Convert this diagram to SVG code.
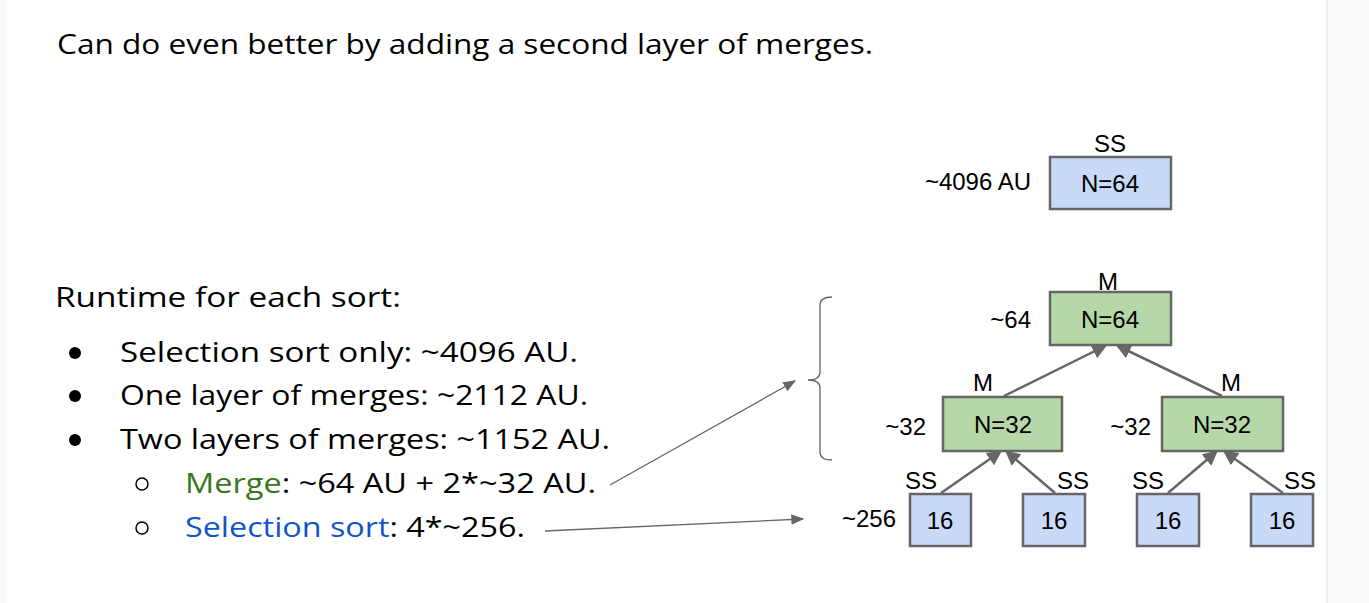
<svg xmlns="http://www.w3.org/2000/svg" width="1369" height="603" viewBox="0 0 1369 603">
<defs>
<style>
.t{font-family:"Open Sans","Noto Sans",sans-serif;font-size:27px;fill:#000}
.a{font-family:"Liberation Sans",Arial,sans-serif;font-size:24px;fill:#000}
.g{fill:#b6d7a8;stroke:#666;stroke-width:2.5}
.b{fill:#c9daf8;stroke:#666;stroke-width:2.5}
.c{stroke:#666;stroke-width:2.5;fill:none}
.thin{stroke:#666;stroke-width:1.3;fill:none}
</style>
<marker id="ah" markerWidth="6" markerHeight="6" refX="5" refY="3" orient="auto" markerUnits="strokeWidth"><path d="M0,0L6,3L0,6z" fill="#666"/></marker>
<marker id="ah2" markerWidth="10" markerHeight="8" refX="9" refY="4" orient="auto" markerUnits="strokeWidth"><path d="M0,0L10,4L0,8z" fill="#666"/></marker>
</defs>
<rect width="1369" height="603" fill="#f8f9fa"/>
<rect x="7" y="0" width="1320" height="603" fill="#fff"/>
<line x1="1327" y1="0" x2="1327" y2="603" stroke="#e0e0e0"/>
<text class="t" x="57" y="54" textLength="816" lengthAdjust="spacingAndGlyphs">Can do even better by adding a second layer of merges.</text>
<text class="t" x="55" y="307" textLength="346" lengthAdjust="spacingAndGlyphs">Runtime for each sort:</text>
<g class="t">
<circle cx="75" cy="353" r="6" fill="#000"/><text x="120" y="362" textLength="458" lengthAdjust="spacingAndGlyphs">Selection sort only: ~4096 AU.</text>
<circle cx="75" cy="396" r="6" fill="#000"/><text x="120" y="405" textLength="468" lengthAdjust="spacingAndGlyphs">One layer of merges: ~2112 AU.</text>
<circle cx="75" cy="440" r="6" fill="#000"/><text x="120" y="449" textLength="490" lengthAdjust="spacingAndGlyphs">Two layers of merges:  ~1152 AU.</text>
<circle cx="142" cy="484" r="6" fill="none" stroke="#000" stroke-width="1.5"/><text x="185" y="493" textLength="411" lengthAdjust="spacingAndGlyphs"><tspan fill="#38761d">Merge</tspan>: ~64 AU + 2*~32 AU.</text>
<circle cx="142" cy="528" r="6" fill="none" stroke="#000" stroke-width="1.5"/><text x="185" y="537" textLength="340" lengthAdjust="spacingAndGlyphs"><tspan fill="#1155cc">Selection sort</tspan>: 4*~256.</text>
</g>
<g id="connectors">
<path class="c" marker-end="url(#ah)" d="M1004,396L1105,346"/>
<path class="c" marker-end="url(#ah)" d="M1222,396L1118,346"/>
<path class="c" marker-end="url(#ah)" d="M941,493L1000,452"/>
<path class="c" marker-end="url(#ah)" d="M1055,493L1007,452"/>
<path class="c" marker-end="url(#ah)" d="M1168,493L1216,452"/>
<path class="c" marker-end="url(#ah)" d="M1283,493L1225,452"/>
<path class="thin" marker-end="url(#ah2)" d="M610,485L795,381"/>
<path class="thin" marker-end="url(#ah2)" d="M545,531L803,519"/>
<path class="thin" d="M832,297Q820,297 820,305L820,372Q820,380 808,380Q820,380 820,388L820,452Q820,460 832,460"/>
</g>
<g id="ss64"><text class="a" x="1110" y="152" text-anchor="middle">SS</text><rect class="b" x="1050" y="157" width="121" height="52"/><text class="a" x="1110" y="192" text-anchor="middle">N=64</text><text class="a" x="1031" y="190" text-anchor="end">~4096 AU</text></g>
<g id="m64"><text class="a" x="1108" y="290" text-anchor="middle">M</text><rect class="g" x="1050" y="292" width="121" height="53"/><text class="a" x="1110" y="328" text-anchor="middle">N=64</text><text class="a" x="1031" y="328" text-anchor="end">~64</text></g>
<g id="m32a"><text class="a" x="983" y="391" text-anchor="middle">M</text><rect class="g" x="943" y="397" width="119" height="54"/><text class="a" x="1003" y="433" text-anchor="middle">N=32</text><text class="a" x="926" y="435" text-anchor="end">~32</text></g>
<g id="m32b"><text class="a" x="1231" y="391" text-anchor="middle">M</text><rect class="g" x="1162" y="397" width="121" height="54"/><text class="a" x="1222" y="433" text-anchor="middle">N=32</text><text class="a" x="1151" y="435" text-anchor="end">~32</text></g>
<g id="s1"><text class="a" x="921" y="489" text-anchor="middle">SS</text><rect class="b" x="910" y="494" width="61" height="52"/><text class="a" x="940" y="529" text-anchor="middle">16</text><text class="a" x="896" y="527" text-anchor="end">~256</text></g>
<g id="s2"><text class="a" x="1073" y="489" text-anchor="middle">SS</text><rect class="b" x="1023" y="494" width="62" height="52"/><text class="a" x="1054" y="529" text-anchor="middle">16</text></g>
<g id="s3"><text class="a" x="1148" y="489" text-anchor="middle">SS</text><rect class="b" x="1137" y="494" width="62" height="52"/><text class="a" x="1168" y="529" text-anchor="middle">16</text></g>
<g id="s4"><text class="a" x="1300" y="489" text-anchor="middle">SS</text><rect class="b" x="1251" y="494" width="62" height="52"/><text class="a" x="1282" y="529" text-anchor="middle">16</text></g>
</svg>
